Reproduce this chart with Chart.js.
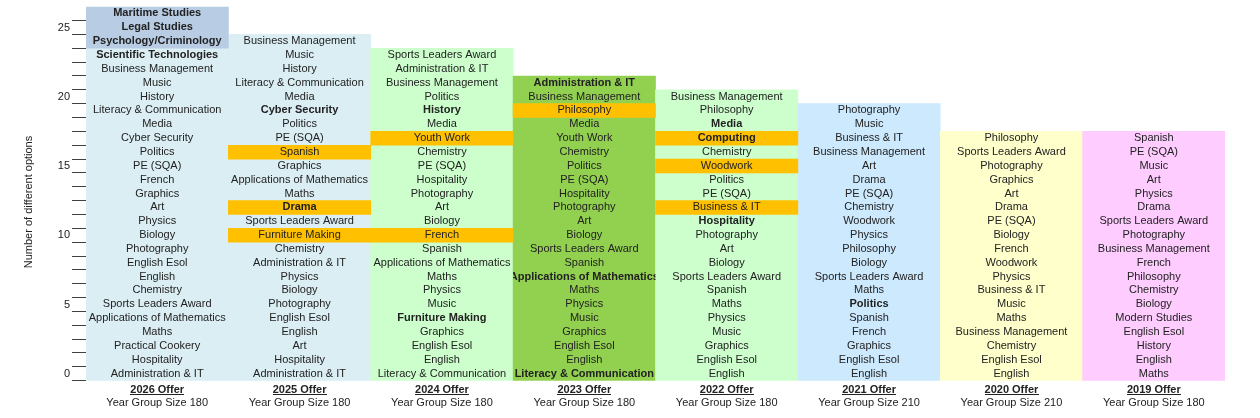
<!DOCTYPE html>
<html>
<head>
<meta charset="utf-8">
<title>Subject offer by year</title>
<script src="https://cdn.jsdelivr.net/npm/chart.js@4.4.1/dist/chart.umd.min.js"></script>
<style>
  html, body { margin: 0; padding: 0; background: #fff; }
  #wrap { width: 1260px; height: 418px; position: relative; }
</style>
</head>
<body>
<div id="wrap"><canvas id="offerChart"></canvas></div>
<script>
'use strict';

// columns, left to right
const offers = ['2026 Offer', '2025 Offer', '2024 Offer', '2023 Offer', '2022 Offer', '2021 Offer', '2020 Offer', '2019 Offer'];
const groupSizes = [180, 180, 180, 180, 180, 210, 210, 180];

// subjects per offer, listed from the bottom row (0) upwards
const subjects2026 = ['Administration & IT', 'Hospitality', 'Practical Cookery', 'Maths', 'Applications of Mathematics',
  'Sports Leaders Award', 'Chemistry', 'English', 'English Esol', 'Photography', 'Biology', 'Physics', 'Art', 'Graphics',
  'French', 'PE (SQA)', 'Politics', 'Cyber Security', 'Media', 'Literacy & Communication', 'History', 'Music',
  'Business Management', 'Scientific Technologies', 'Psychology/Criminology', 'Legal Studies', 'Maritime Studies'];
const subjects2025 = ['Administration & IT', 'Hospitality', 'Art', 'English', 'English Esol', 'Photography', 'Biology',
  'Physics', 'Administration & IT', 'Chemistry', 'Furniture Making', 'Sports Leaders Award', 'Drama', 'Maths',
  'Applications of Mathematics', 'Graphics', 'Spanish', 'PE (SQA)', 'Politics', 'Cyber Security', 'Media',
  'Literacy & Communication', 'History', 'Music', 'Business Management'];
const subjects2024 = ['Literacy & Communication', 'English', 'English Esol', 'Graphics', 'Furniture Making', 'Music',
  'Physics', 'Maths', 'Applications of Mathematics', 'Spanish', 'French', 'Biology', 'Art', 'Photography', 'Hospitality',
  'PE (SQA)', 'Chemistry', 'Youth Work', 'Media', 'History', 'Politics', 'Business Management', 'Administration & IT',
  'Sports Leaders Award'];
const subjects2023 = ['Literacy & Communication', 'English', 'English Esol', 'Graphics', 'Music', 'Physics', 'Maths',
  'Applications of Mathematics', 'Spanish', 'Sports Leaders Award', 'Biology', 'Art', 'Photography', 'Hospitality',
  'PE (SQA)', 'Politics', 'Chemistry', 'Youth Work', 'Media', 'Philosophy', 'Business Management', 'Administration & IT'];
const subjects2022 = ['English', 'English Esol', 'Graphics', 'Music', 'Physics', 'Maths', 'Spanish', 'Sports Leaders Award',
  'Biology', 'Art', 'Photography', 'Hospitality', 'Business & IT', 'PE (SQA)', 'Politics', 'Woodwork', 'Chemistry',
  'Computing', 'Media', 'Philosophy', 'Business Management'];
const subjects2021 = ['English', 'English Esol', 'Graphics', 'French', 'Spanish', 'Politics', 'Maths', 'Sports Leaders Award',
  'Biology', 'Philosophy', 'Physics', 'Woodwork', 'Chemistry', 'PE (SQA)', 'Drama', 'Art', 'Business Management',
  'Business & IT', 'Music', 'Photography'];
const subjects2020 = ['English', 'English Esol', 'Chemistry', 'Business Management', 'Maths', 'Music', 'Business & IT',
  'Physics', 'Woodwork', 'French', 'Biology', 'PE (SQA)', 'Drama', 'Art', 'Graphics', 'Photography',
  'Sports Leaders Award', 'Philosophy'];
const subjects2019 = ['Maths', 'English', 'History', 'English Esol', 'Modern Studies', 'Biology', 'Chemistry', 'Philosophy',
  'French', 'Business Management', 'Photography', 'Sports Leaders Award', 'Drama', 'Physics', 'Art', 'Music',
  'PE (SQA)', 'Spanish'];
const columnSubjects = [subjects2026, subjects2025, subjects2024, subjects2023, subjects2022, subjects2021, subjects2020, subjects2019];

// marked cells per column
const newSubjects = [['Psychology/Criminology', 'Legal Studies', 'Maritime Studies'], [], [], [], [], [], [], []];
const highlighted = [[], ['Spanish', 'Drama', 'Furniture Making'], ['Youth Work', 'French'], ['Philosophy'],
  ['Computing', 'Woodwork', 'Business & IT'], [], [], []];
const boldSubjects = [
  ['Scientific Technologies', 'Psychology/Criminology', 'Legal Studies', 'Maritime Studies'],
  ['Cyber Security', 'Drama'],
  ['History', 'Furniture Making'],
  ['Administration & IT', 'Applications of Mathematics', 'Literacy & Communication'],
  ['Media', 'Computing', 'Hospitality'],
  ['Politics'], [], []
];

const yTicks = [0, 1, 2, 3, 4, 5, 6, 7, 8, 9, 10, 11, 12, 13, 14, 15, 16, 17, 18, 19, 20, 21, 22, 23, 24, 25];

const columnColours = ['#dbeef4', '#dbeef4', '#ccffcc', '#92d050', '#ccffcc', '#cde9fe', '#ffffcc', '#ffccff'];
const newColour = '#b8cce4';
const highlightColour = '#ffc000';
const textColour = '#222222';
const FONT = '"Liberation Sans", Arial, sans-serif';

Chart.defaults.font.family = FONT;
Chart.defaults.font.size = 11;
Chart.defaults.color = textColour;

// one cell spans row-0.5 .. row+0.5
const cellRange = (list, names) => {
  const rows = names.map(n => list.indexOf(n)).filter(r => r >= 0);
  if (!rows.length) return null;
  return [Math.min(...rows) - 0.5, Math.max(...rows) + 0.5];
};

const barDefaults = { grouped: false, barPercentage: 1, categoryPercentage: 1, borderWidth: 0 };

// lower order is painted on top
const datasets = [
  { ...barDefaults, order: 10, label: 'Offer', data: columnSubjects.map(l => [-0.5, l.length - 0.5]), backgroundColor: columnColours },
  { ...barDefaults, order: 5, label: 'New', data: columnSubjects.map((l, c) => cellRange(l, newSubjects[c])), backgroundColor: newColour }
];
for (let k = 0; k < 3; k++) {
  datasets.push({
    ...barDefaults,
    order: 1,
    label: 'Changed ' + (k + 1),
    data: columnSubjects.map((l, c) => highlighted[c][k] ? cellRange(l, [highlighted[c][k]]) : null),
    backgroundColor: highlightColour
  });
}

const cellText = {
  id: 'cellText',
  afterDatasetsDraw(chart) {
    const { ctx, chartArea } = chart;
    const x = chart.scales.x, y = chart.scales.y;
    const colW = x.getPixelForValue(1) - x.getPixelForValue(0);
    ctx.save();
    ctx.fillStyle = textColour;
    ctx.textAlign = 'center';
    ctx.textBaseline = 'alphabetic';
    columnSubjects.forEach((list, c) => {
      const cx = x.getPixelForValue(c);
      ctx.save();
      ctx.beginPath();
      ctx.rect(cx - colW / 2, 0, colW, chartArea.bottom + 1);
      ctx.clip();
      list.forEach((name, r) => {
        const bold = boldSubjects[c].includes(name);
        ctx.font = (bold ? 'bold ' : '') + '11px ' + FONT;
        ctx.fillText(name, cx, y.getPixelForValue(r) + 2.8);
      });
      ctx.restore();
    });

    // category labels under each column
    offers.forEach((label, c) => {
      const cx = x.getPixelForValue(c);
      const base = chartArea.bottom + 11.8;
      ctx.font = 'bold 11px ' + FONT;
      ctx.fillText(label, cx, base);
      const w = ctx.measureText(label).width;
      ctx.fillRect(Math.round(cx - w / 2), Math.round(base + 1), Math.round(w), 1);
      ctx.font = '11px ' + FONT;
      ctx.fillText('Year Group Size ' + groupSizes[c], cx, base + 13.2);
    });

    // axis title
    ctx.translate(28.5, 202);
    ctx.rotate(-Math.PI / 2);
    ctx.textBaseline = 'middle';
    ctx.font = '11px ' + FONT;
    ctx.fillText('Number of different options', 0, 0);
    ctx.restore();
  }
};

new Chart(document.getElementById('offerChart'), {
  type: 'bar',
  data: { labels: offers, datasets },
  options: {
    responsive: true,
    maintainAspectRatio: false,
    animation: false,
    layout: { padding: { top: 6.7, right: 35, bottom: 37.3, left: 0 } },
    plugins: { legend: { display: false }, tooltip: { enabled: false } },
    scales: {
      x: { display: false, offset: true },
      y: {
        min: -0.5,
        max: 26.5,
        afterBuildTicks: s => { s.ticks = yTicks.map(v => ({ value: v })); },
        afterFit: s => { s.width = 86; s.paddingTop = 0; s.paddingBottom = 0; },
        grid: { offset: true, drawOnChartArea: false, drawTicks: true, tickLength: 14, color: '#404040', lineWidth: 1 },
        border: { display: false },
        ticks: { padding: 2, autoSkip: false, color: textColour, callback: v => (v % 5 === 0 ? v : '') }
      }
    }
  },
  plugins: [cellText]
});
</script>
</body>
</html>
